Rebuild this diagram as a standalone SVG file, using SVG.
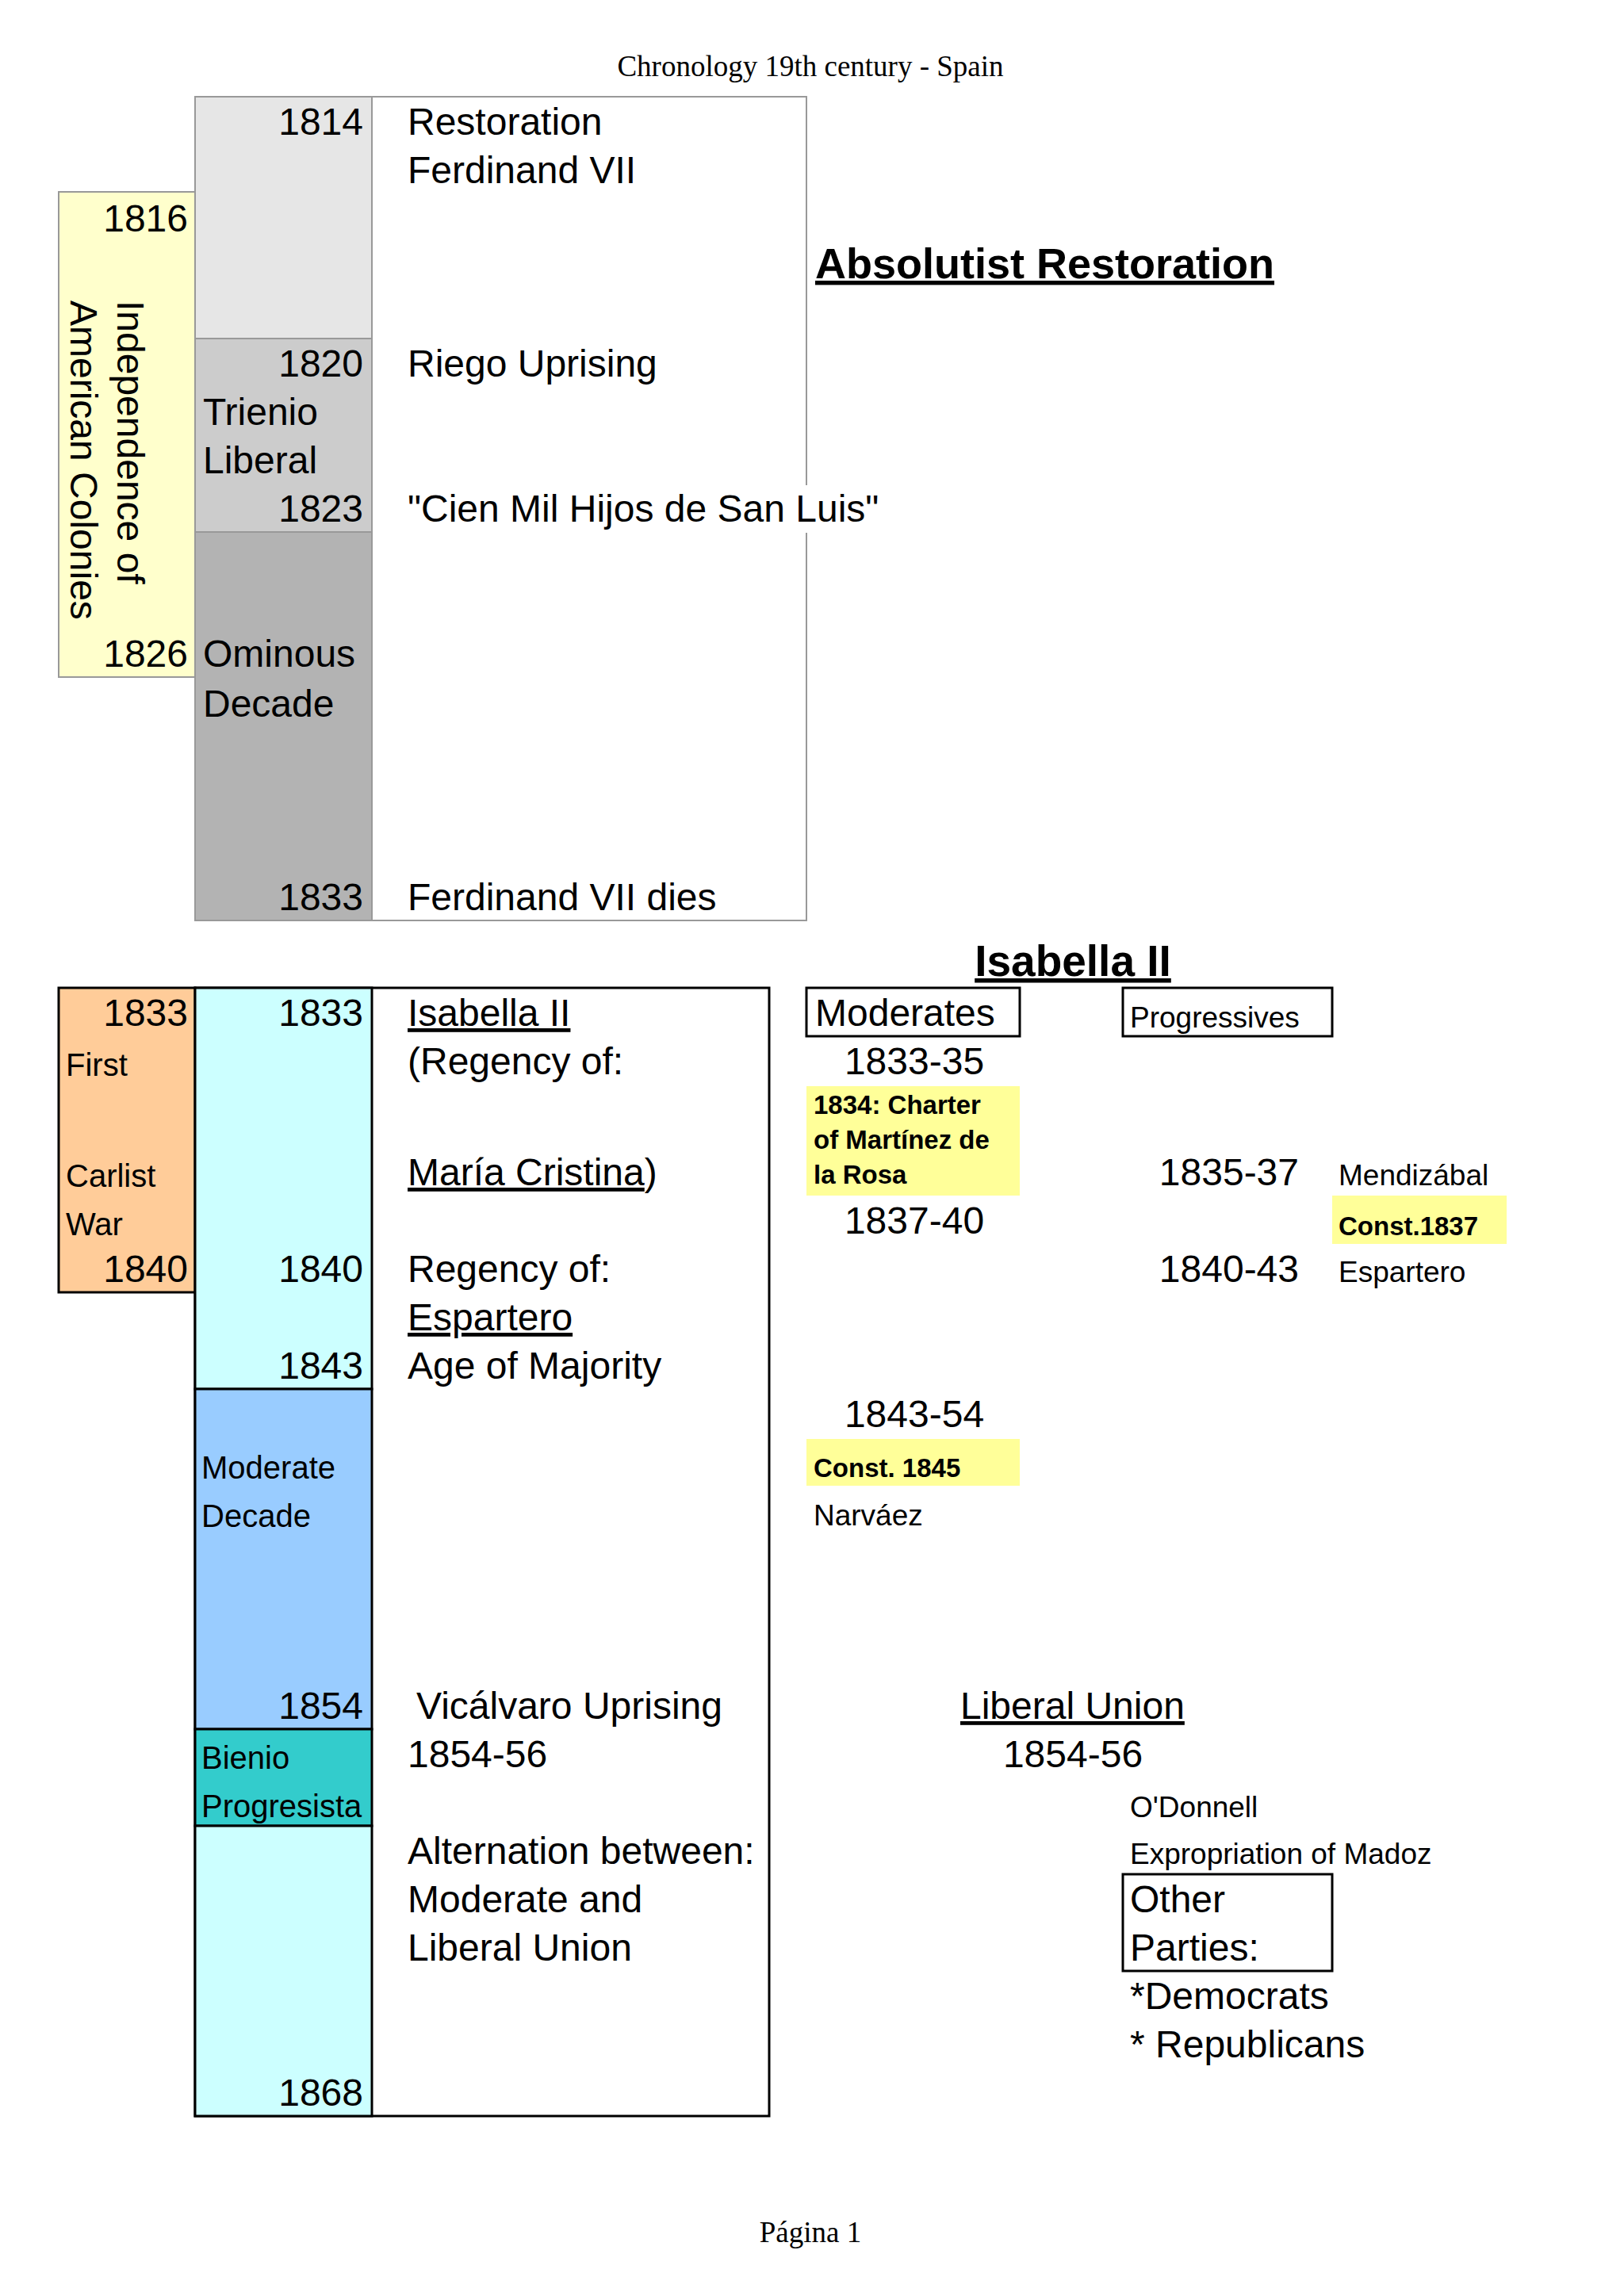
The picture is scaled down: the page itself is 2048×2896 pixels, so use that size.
<svg xmlns="http://www.w3.org/2000/svg" width="2048" height="2896" viewBox="0 0 2048 2896">
<style>
text{font-family:"Liberation Sans",Arial,sans-serif;fill:#000}
.s{font-family:"Liberation Serif","Times New Roman",serif;font-size:37px}
.L{font-size:48px}
.m{font-size:40px}
.sm{font-size:37px}
.b{font-weight:bold;font-size:33px}
.r{text-anchor:end}
.c{text-anchor:middle}
.u{text-decoration:underline}
.g{stroke:#999;stroke-width:2}
.k{stroke:#000;stroke-width:3}
</style>
<rect width="2048" height="2896" fill="#fff"/>
<text class="s c" x="1022" y="96">Chronology 19th century - Spain</text>

<g id="top-frame">
<rect x="246" y="122" width="771" height="1039" fill="#fff" class="g"/>
<rect x="1010" y="612" width="14" height="60" fill="#fff"/>
</g>
<g id="restoration"><rect x="246" y="122" width="223" height="305" fill="#e6e6e6" class="g"/>
<text class="L r" x="458" y="170">1814</text><text class="L" x="514" y="170">Restoration</text><text class="L" x="514" y="231">Ferdinand VII</text></g>
<g id="trienio"><rect x="246" y="427" width="223" height="244" fill="#cccccc" class="g"/>
<text class="L r" x="458" y="475">1820</text><text class="L" x="514" y="475">Riego Uprising</text>
<text class="L" x="256" y="536">Trienio</text><text class="L" x="256" y="597">Liberal</text>
<text class="L r" x="458" y="658">1823</text><text class="L" x="514" y="658">"Cien Mil Hijos de San Luis"</text></g>
<g id="ominous"><rect x="246" y="671" width="223" height="490" fill="#b3b3b3" class="g"/>
<text class="L" x="256" y="841">Ominous</text><text class="L" x="256" y="904">Decade</text>
<text class="L r" x="458" y="1148">1833</text><text class="L" x="514" y="1148">Ferdinand VII dies</text></g>
<g id="independence"><rect x="74" y="242" width="172" height="612" fill="#ffffcc" class="g"/>
<text class="L r" x="237" y="292">1816</text><text class="L r" x="237" y="841">1826</text>
<text class="L" transform="translate(148,379) rotate(90)">Independence of</text>
<text class="L" transform="translate(89,379) rotate(90)">American Colonies</text></g>
<text class="u" x="1028" y="351" style="font-weight:bold;font-size:54px">Absolutist Restoration</text>

<text class="c u" x="1353" y="1231" style="font-weight:bold;font-size:55px">Isabella II</text>
<g id="isabella-frame"><rect x="246" y="1246" width="724" height="1423" fill="#fff" class="k"/></g>
<g id="carlist"><rect x="74" y="1246" width="172" height="384" fill="#ffcc99" class="k"/>
<text class="L r" x="237" y="1294">1833</text><text class="m" x="83" y="1357">First</text><text class="m" x="83" y="1497">Carlist</text><text class="m" x="83" y="1558">War</text><text class="L r" x="237" y="1617">1840</text></g>
<g id="regency"><rect x="246" y="1246" width="223" height="506" fill="#ccffff" class="k"/>
<text class="L r" x="458" y="1294">1833</text><text class="L u" x="514" y="1294">Isabella II</text>
<text class="L" x="514" y="1355">(Regency of:</text>
<text class="L" x="514" y="1495"><tspan class="u">María Cristina</tspan>)</text>
<text class="L r" x="458" y="1617">1840</text><text class="L" x="514" y="1617">Regency of:</text>
<text class="L u" x="514" y="1678">Espartero</text>
<text class="L r" x="458" y="1739">1843</text><text class="L" x="514" y="1739">Age of Majority</text></g>
<g id="moderate-decade"><rect x="246" y="1752" width="223" height="429" fill="#99ccff" class="k"/>
<text class="m" x="254" y="1865">Moderate</text><text class="m" x="254" y="1926">Decade</text>
<text class="L r" x="458" y="2168">1854</text><text class="L" x="525" y="2168">Vicálvaro Uprising</text></g>
<g id="bienio"><rect x="246" y="2181" width="223" height="122" fill="#33cccc" class="k"/>
<text class="m" x="254" y="2231">Bienio</text><text class="m" x="254" y="2292">Progresista</text>
<text class="L" x="514" y="2229">1854-56</text></g>
<g id="alternation"><rect x="246" y="2303" width="223" height="366" fill="#ccffff" class="k"/>
<text class="L" x="514" y="2351">Alternation between:</text><text class="L" x="514" y="2412">Moderate and</text><text class="L" x="514" y="2473">Liberal Union</text>
<text class="L r" x="458" y="2656">1868</text></g>

<g id="moderates"><rect x="1017" y="1246" width="269" height="61" fill="#fff" class="k"/>
<text class="L" x="1028" y="1294">Moderates</text>
<text class="L c" x="1153" y="1355">1833-35</text>
<rect x="1017" y="1370" width="269" height="138" fill="#ffff99"/>
<text class="b" x="1026" y="1405">1834: Charter</text><text class="b" x="1026" y="1449">of Martínez de</text><text class="b" x="1026" y="1493">la Rosa</text>
<text class="L c" x="1153" y="1556">1837-40</text>
<text class="L c" x="1153" y="1800">1843-54</text>
<rect x="1017" y="1815" width="269" height="59" fill="#ffff99"/>
<text class="b" x="1026" y="1863">Const. 1845</text>
<text class="sm" x="1026" y="1924">Narváez</text></g>
<g id="progressives"><rect x="1416" y="1246" width="264" height="61" fill="#fff" class="k"/>
<text class="sm" x="1425" y="1296">Progressives</text>
<text class="L r" x="1638" y="1495">1835-37</text><text class="sm" x="1688" y="1495">Mendizábal</text>
<rect x="1680" y="1508" width="220" height="61" fill="#ffff99"/>
<text class="b" x="1688" y="1558">Const.1837</text>
<text class="L r" x="1638" y="1617">1840-43</text><text class="sm" x="1688" y="1617">Espartero</text></g>
<g id="liberal-union"><text class="L u" x="1211" y="2168">Liberal Union</text>
<text class="L c" x="1353" y="2229">1854-56</text>
<text class="sm" x="1425" y="2292">O'Donnell</text><text class="sm" x="1425" y="2351">Expropriation of Madoz</text></g>
<g id="other-parties"><rect x="1416" y="2364" width="264" height="122" fill="#fff" class="k"/>
<text class="L" x="1425" y="2412">Other</text><text class="L" x="1425" y="2473">Parties:</text>
<text class="L" x="1425" y="2534">*Democrats</text><text class="L" x="1425" y="2595">* Republicans</text></g>
<g id="connectors"/>
<text class="s c" x="1022" y="2828">Página 1</text>
</svg>
